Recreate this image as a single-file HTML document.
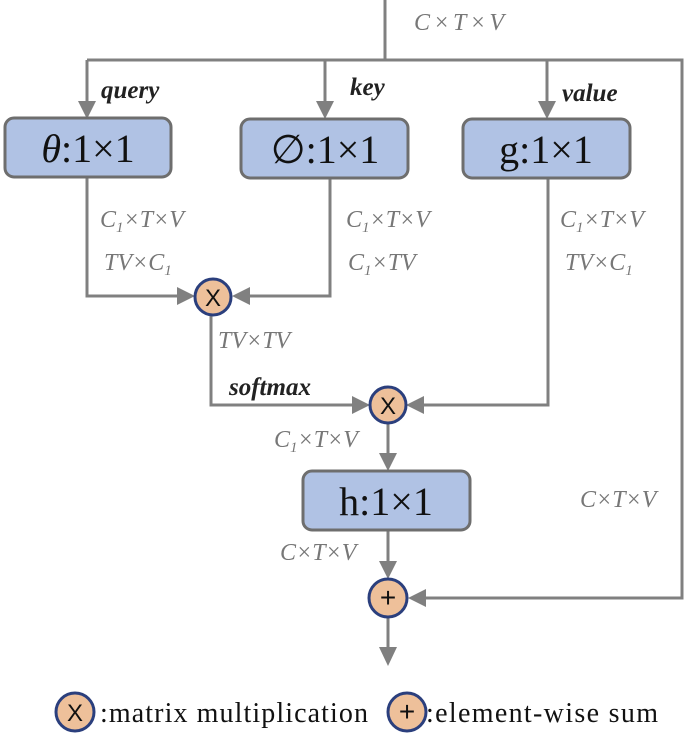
<!DOCTYPE html>
<html><head><meta charset="utf-8"><style>html,body{margin:0;padding:0;background:#fff}svg{display:block}</style></head>
<body>
<svg width="685" height="736" viewBox="0 0 685 736" xmlns="http://www.w3.org/2000/svg">
<g stroke="#808080" stroke-width="3" fill="none">
<path d="M385 0V60M87 60H682V598H420"/>
<path d="M87 60V104M325 60V104M547 60V104"/>
<path d="M87 177V296H180M330 177V296H245"/>
<path d="M548 177V405H420M211 312V405H356"/>
<path d="M388 423V456M388 530V564M388 617V650"/>
</g>
<g fill="#808080">
<polygon points="78,101 96,101 87,119"/>
<polygon points="316,101 334,101 325,119"/>
<polygon points="538,101 556,101 547,119"/>
<polygon points="177,287 177,305 195,296"/>
<polygon points="250,287 250,305 232,296"/>
<polygon points="352,396 352,414 370,405"/>
<polygon points="424,396 424,414 406,405"/>
<polygon points="379,453 397,453 388,471"/>
<polygon points="379,561 397,561 388,579"/>
<polygon points="426,589 426,607 408,598"/>
<polygon points="379,647 397,647 388,666"/>
</g>
<g fill="#b0c2e4" stroke="#6e6e6e" stroke-width="3">
<rect x="5" y="118" width="166" height="59" rx="9"/>
<rect x="241" y="119" width="167" height="59" rx="9"/>
<rect x="463" y="119" width="167" height="59" rx="9"/>
<rect x="303" y="471" width="167" height="59" rx="9"/>
</g>
<g font-family="Liberation Serif, serif" font-size="40" fill="#111" text-anchor="middle">
<text x="88" y="162"><tspan font-style="italic">θ</tspan>:1×1</text>
<text x="325" y="163">∅:1×1</text>
<text x="546" y="163">g:1×1</text>
<text x="386" y="515">h:1×1</text>
</g>
<g fill="#eec09a" stroke="#2b3f7d" stroke-width="3">
<circle cx="213" cy="297" r="18"/>
<circle cx="388" cy="405" r="18"/>
<circle cx="388" cy="598" r="19"/>
<circle cx="75" cy="712" r="19"/>
<circle cx="407" cy="712" r="19"/>
</g>
<g font-family="Liberation Sans, sans-serif" font-size="24" fill="#111" text-anchor="middle">
<text x="213" y="306">X</text>
<text x="388" y="414">X</text>
<text x="388" y="607" font-size="28">+</text>
<text x="75" y="721">X</text>
<text x="407" y="721" font-size="28">+</text>
</g>
<g font-family="Liberation Serif, serif" font-size="24" font-style="italic" fill="#777">
<text x="414" y="30" textLength="90">C×T×V</text>
<text x="100" y="227">C<tspan font-size="15" dy="5">1</tspan><tspan dy="-5">×T×V</tspan></text>
<text x="104" y="270">TV×C<tspan font-size="15" dy="5">1</tspan></text>
<text x="346" y="227">C<tspan font-size="15" dy="5">1</tspan><tspan dy="-5">×T×V</tspan></text>
<text x="348" y="270">C<tspan font-size="15" dy="5">1</tspan><tspan dy="-5">×TV</tspan></text>
<text x="560" y="227">C<tspan font-size="15" dy="5">1</tspan><tspan dy="-5">×T×V</tspan></text>
<text x="565" y="270">TV×C<tspan font-size="15" dy="5">1</tspan></text>
<text x="218" y="348">TV×TV</text>
<text x="274" y="447">C<tspan font-size="15" dy="5">1</tspan><tspan dy="-5">×T×V</tspan></text>
<text x="580" y="507">C×T×V</text>
<text x="280" y="560">C×T×V</text>
</g>
<g font-family="Liberation Serif, serif" font-size="25" font-style="italic" font-weight="bold" fill="#222">
<text x="101" y="98">query</text>
<text x="350" y="95">key</text>
<text x="562" y="101">value</text>
<text x="229" y="395">softmax</text>
</g>
<g font-family="Liberation Serif, serif" font-size="28" fill="#111">
<text x="100" y="722" textLength="268">:matrix multiplication</text>
<text x="426" y="722" textLength="232">:element-wise sum</text>
</g>
</svg>
</body></html>
